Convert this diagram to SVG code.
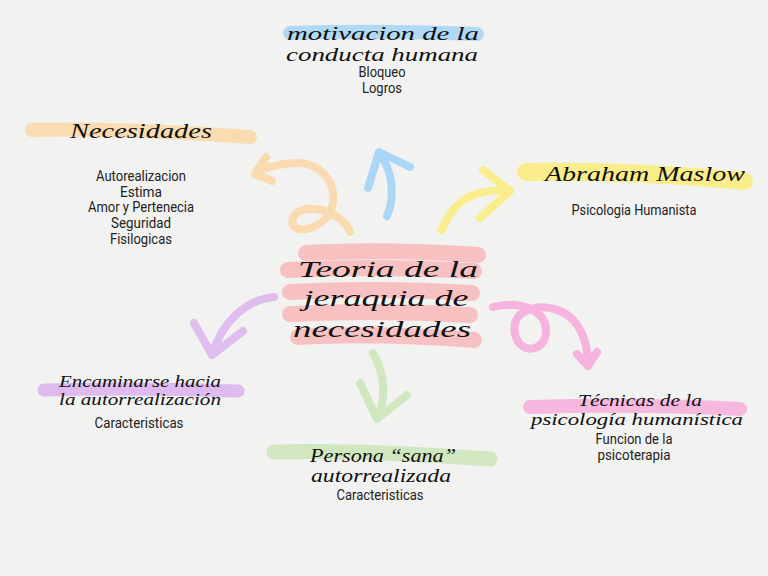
<svg xmlns="http://www.w3.org/2000/svg" width="768" height="576" viewBox="0 0 768 576">
<defs>
<style>
.hl{fill:none;stroke-linecap:round;stroke-linejoin:round}
.t{font-family:"Liberation Serif","DejaVu Serif",serif;font-style:italic;fill:#111;text-anchor:middle}
.b{font-family:"Roboto","Liberation Sans",sans-serif;font-size:14px;fill:#222;text-anchor:middle}
.ar{fill:none;stroke-linecap:round;stroke-linejoin:round;stroke-width:8;opacity:0.85}
</style>
</defs>
<rect width="768" height="576" fill="#f2f2f1"/>
<g id="connectors">
<path class="ar" stroke="#fbd6a6" d="M350,232 C342,210 300,200 293,218 C287,236 322,232 331,210 C340,186 322,162 296,163 C276,164 263,168 255,174 M266,157 L255,174 L272,181"/>
<path class="ar" stroke="#9fd2f7" d="M387,216 C396,195 392,170 379,152 M368,188 L379,152 L410,167"/>
<path class="ar" stroke="#fbec7c" d="M442,230 C455,196 480,188 510,191 M483,170 L510,191 L480,218"/>
<path class="ar" stroke="#dcb4ee" d="M274,297 C245,300 222,322 212,355 M194,323 L212,355 L243,331"/>
<path class="ar" stroke="#f7a8da" d="M493,307 C520,300 546,310 546,331 C546,352 520,356 515,334 C510,311 536,302 560,311 C580,319 588,342 588,366 M577,354 L588,366 L597,352"/>
<path class="ar" stroke="#cbe5b7" d="M373,353 C386,376 386,400 377,419 M360,383 L377,419 L407,395"/>
</g>
<g id="center">
<path class="hl" stroke="#f9b9b9" stroke-width="16" opacity="0.85" d="M306,253 C360,250 430,251 478,255 M288,270 C350,267 420,268 474,271 M290,292 C350,289 420,290 472,293 M290,314 C350,311 420,312 470,315 M298,337 C350,334 420,336 474,340"/>
<text class="t" x="388" y="277" font-size="24" textLength="180" lengthAdjust="spacingAndGlyphs">Teoria de la</text>
<text class="t" x="386" y="306" font-size="24" textLength="165" lengthAdjust="spacingAndGlyphs">jeraquia de</text>
<text class="t" x="382" y="337" font-size="24" textLength="178" lengthAdjust="spacingAndGlyphs">necesidades</text>
</g>
<g id="motivacion">
<path class="hl" stroke="#a8d6f6" stroke-width="14" opacity="0.9" d="M290,33 C350,31 420,32 477,34"/>
<text class="t" x="383" y="40" font-size="19" textLength="192" lengthAdjust="spacingAndGlyphs">motivacion de la</text>
<text class="t" x="382" y="61" font-size="19" textLength="192" lengthAdjust="spacingAndGlyphs">conducta humana</text>
<text class="b" x="382" y="77" textLength="47" lengthAdjust="spacingAndGlyphs">Bloqueo</text>
<text class="b" x="382" y="93" textLength="40" lengthAdjust="spacingAndGlyphs">Logros</text>
</g>
<g id="necesidades">
<path class="hl" stroke="#fbd9ab" stroke-width="14" opacity="0.9" d="M32,130 C100,128 180,132 250,137"/>
<text class="t" x="141" y="138" font-size="21" textLength="142" lengthAdjust="spacingAndGlyphs">Necesidades</text>
<text class="b" x="141" y="181" textLength="90" lengthAdjust="spacingAndGlyphs">Autorealizacion</text>
<text class="b" x="141" y="197" textLength="42" lengthAdjust="spacingAndGlyphs">Estima</text>
<text class="b" x="141" y="212" textLength="106" lengthAdjust="spacingAndGlyphs">Amor y Pertenecia</text>
<text class="b" x="141" y="228" textLength="60" lengthAdjust="spacingAndGlyphs">Seguridad</text>
<text class="b" x="141" y="244" textLength="62" lengthAdjust="spacingAndGlyphs">Fisilogicas</text>
</g>
<g id="maslow">
<path class="hl" stroke="#fbec80" stroke-width="18" opacity="0.9" d="M526,172 C600,171 680,175 744,181"/>
<text class="t" x="645" y="181" font-size="20" textLength="200" lengthAdjust="spacingAndGlyphs">Abraham Maslow</text>
<text class="b" x="634" y="215" textLength="125" lengthAdjust="spacingAndGlyphs">Psicologia Humanista</text>
</g>
<g id="encaminarse">
<path class="hl" stroke="#dcb4ee" stroke-width="13" opacity="0.9" d="M44,390 C110,388 180,389 238,391"/>
<text class="t" x="140" y="387" font-size="17" textLength="162" lengthAdjust="spacingAndGlyphs">Encaminarse hacia</text>
<text class="t" x="140" y="405" font-size="17" textLength="162" lengthAdjust="spacingAndGlyphs">la autorrealización</text>
<text class="b" x="139" y="428" textLength="89" lengthAdjust="spacingAndGlyphs">Caracteristicas</text>
</g>
<g id="tecnicas">
<path class="hl" stroke="#f6b1dd" stroke-width="14" opacity="0.9" d="M530,407 C600,405 680,406 740,409"/>
<text class="t" x="640" y="406" font-size="17" textLength="124" lengthAdjust="spacingAndGlyphs">Técnicas de la</text>
<text class="t" x="637" y="425" font-size="17" textLength="212" lengthAdjust="spacingAndGlyphs">psicología humanística</text>
<text class="b" x="634" y="444" textLength="77" lengthAdjust="spacingAndGlyphs">Funcion de la</text>
<text class="b" x="634" y="460" textLength="73" lengthAdjust="spacingAndGlyphs">psicoterapia</text>
</g>
<g id="persona">
<path class="hl" stroke="#cde6b9" stroke-width="15" opacity="0.9" d="M274,452 C340,450 420,454 490,459"/>
<text class="t" x="383" y="462" font-size="18" textLength="146" lengthAdjust="spacingAndGlyphs">Persona “sana”</text>
<text class="t" x="381" y="482" font-size="18" textLength="140" lengthAdjust="spacingAndGlyphs">autorrealizada</text>
<text class="b" x="380" y="500" textLength="87" lengthAdjust="spacingAndGlyphs">Caracteristicas</text>
</g>
</svg>
